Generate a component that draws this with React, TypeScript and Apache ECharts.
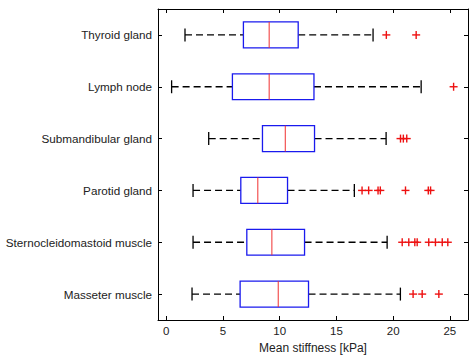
import React, { useEffect, useRef } from 'react';
import * as echarts from 'echarts';

const categories = [
  'Thyroid gland',
  'Lymph node',
  'Submandibular gland',
  'Parotid gland',
  'Sternocleidomastoid muscle',
  'Masseter muscle',
];
const whiskerLow = [1.65, 0.47, 3.74, 2.36, 2.36, 2.27];
const quartile1 = [6.8, 5.83, 8.48, 6.57, 7.1, 6.51];
const medians = [9.07, 9.07, 10.49, 8.07, 9.31, 9.87];
const quartile3 = [11.63, 13.02, 13.07, 10.69, 12.19, 12.54];
const whiskerHigh = [18.23, 22.47, 19.38, 16.58, 19.47, 20.64];
const outliers = [
  [19.4, 22.03],
  [25.33],
  [20.65, 20.9, 21.2],
  [17.26, 17.84, 18.67, 18.87, 21.09, 23.1, 23.3],
  [20.8, 21.38, 21.91, 22.12, 23.14, 23.73, 24.33, 24.82],
  [21.76, 22.56, 24.03],
];
const xTicks = [0, 5, 10, 15, 20, 25];
const xMin = -0.73;
const xMax = 26.6;

const FONT = '"Liberation Sans", Arial, sans-serif';

export default function App() {
  const ref = useRef<HTMLDivElement>(null);
  useEffect(() => {
    const chart = echarts.init(ref.current!, null, { renderer: 'svg' });
    const boxData = categories.map((_, i) => [
      i,
      whiskerLow[i],
      quartile1[i],
      medians[i],
      quartile3[i],
      whiskerHigh[i],
    ]);
    const outlierData: number[][] = [];
    outliers.forEach((arr, i) => arr.forEach((v) => outlierData.push([v, i])));

    const tickStyle = { color: '#000', width: 1 };
    chart.setOption({
      animation: false,
      backgroundColor: '#fff',
      grid: { left: 158, right: 6, top: 9, bottom: 44 },
      xAxis: [
        {
          type: 'value',
          min: xMin,
          max: xMax,
          position: 'bottom',
          axisLine: { show: true, onZero: false, lineStyle: { color: '#000', width: 1 } },
          axisTick: { show: true, inside: true, length: 4, lineStyle: tickStyle, customValues: xTicks },
          axisLabel: { customValues: xTicks, fontFamily: FONT, fontSize: 11.5, color: '#222', margin: 5 },
          splitLine: { show: false },
          name: 'Mean stiffness [kPa]',
          nameLocation: 'middle',
          nameGap: 20,
          nameTextStyle: { fontFamily: FONT, fontSize: 12, color: '#222' },
        },
        {
          type: 'value',
          min: xMin,
          max: xMax,
          position: 'top',
          axisLine: { show: true, onZero: false, lineStyle: { color: '#000', width: 1 } },
          axisTick: { show: true, inside: true, length: 4, lineStyle: tickStyle, customValues: xTicks },
          axisLabel: { show: false },
          splitLine: { show: false },
        },
      ],
      yAxis: [
        {
          type: 'category',
          data: categories,
          inverse: true,
          position: 'left',
          axisLine: { show: true, onZero: false, lineStyle: { color: '#000', width: 1 } },
          axisTick: { show: true, inside: true, alignWithLabel: true, length: 4, lineStyle: tickStyle },
          axisLabel: { fontFamily: FONT, fontSize: 11.7, color: '#222', margin: 6 },
          splitLine: { show: false },
        },
        {
          type: 'category',
          data: categories,
          inverse: true,
          position: 'right',
          axisLine: { show: true, onZero: false, lineStyle: { color: '#000', width: 1 } },
          axisTick: { show: true, inside: true, alignWithLabel: true, length: 4, lineStyle: tickStyle },
          axisLabel: { show: false },
          splitLine: { show: false },
        },
      ],
      series: [
        {
          type: 'custom',
          xAxisIndex: 0,
          yAxisIndex: 0,
          encode: { x: [1, 2, 3, 4, 5], y: 0 },
          data: boxData,
          renderItem: (params: any, api: any) => {
            const ci = api.value(0);
            const yc = api.coord([0, ci])[1];
            const band = api.size([0, 1])[1];
            const half = band * 0.25;
            const cap = half * 0.5;
            const px = (v: number) => api.coord([v, ci])[0];
            const lo = px(api.value(1));
            const a = px(api.value(2));
            const m = px(api.value(3));
            const b = px(api.value(4));
            const hi = px(api.value(5));
            const dash = { stroke: '#000', lineWidth: 1.3, lineDash: [7, 4] };
            return {
              type: 'group',
              children: [
                { type: 'line', shape: { x1: lo, y1: yc, x2: a, y2: yc }, style: dash },
                { type: 'line', shape: { x1: b, y1: yc, x2: hi, y2: yc }, style: dash },
                { type: 'line', shape: { x1: lo, y1: yc - cap, x2: lo, y2: yc + cap }, style: { stroke: '#000', lineWidth: 1.3 } },
                { type: 'line', shape: { x1: hi, y1: yc - cap, x2: hi, y2: yc + cap }, style: { stroke: '#000', lineWidth: 1.3 } },
                {
                  type: 'rect',
                  shape: { x: a, y: yc - half, width: b - a, height: half * 2 },
                  style: { fill: '#fff', stroke: '#1a1aee', lineWidth: 1.3 },
                },
                { type: 'line', shape: { x1: m, y1: yc - half, x2: m, y2: yc + half }, style: { stroke: '#f03030', lineWidth: 1 } },
              ],
            };
          },
          z: 2,
        },
        {
          type: 'custom',
          xAxisIndex: 0,
          yAxisIndex: 0,
          encode: { x: 0, y: 1 },
          data: outlierData,
          renderItem: (params: any, api: any) => {
            const p = api.coord([api.value(0), api.value(1)]);
            const s = 4;
            const st = { stroke: '#ee1111', lineWidth: 1.4 };
            return {
              type: 'group',
              children: [
                { type: 'line', shape: { x1: p[0] - s, y1: p[1], x2: p[0] + s, y2: p[1] }, style: st },
                { type: 'line', shape: { x1: p[0], y1: p[1] - s, x2: p[0], y2: p[1] + s }, style: st },
              ],
            };
          },
          z: 3,
        },
      ],
    });
    return () => chart.dispose();
  }, []);
  return (
    <div
      ref={ref}
      style={{ position: 'fixed', left: 0, top: 0, width: 474, height: 364, background: '#fff' }}
    />
  );
}
